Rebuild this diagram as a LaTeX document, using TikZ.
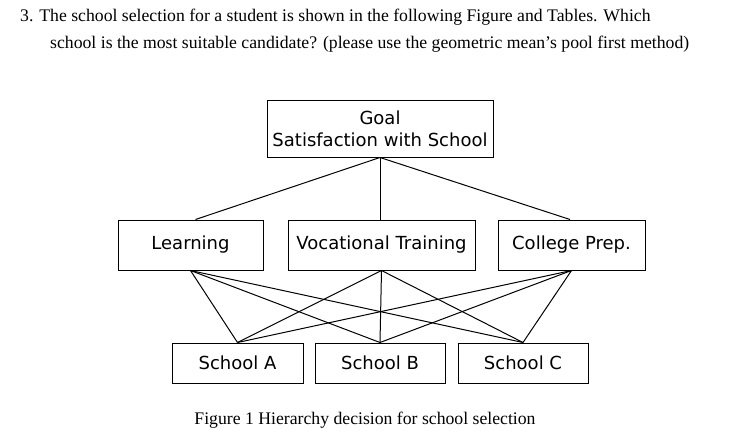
\documentclass[tikz,border=0pt]{standalone}
\usepackage{fontspec}
\setmainfont{Liberation Serif}
\newfontfamily\boxfont{DejaVu Sans}
\begin{document}
\begin{tikzpicture}[x=1pt,y=-1pt,
  bx/.style={draw,line width=1pt,font=\boxfont\fontsize{18}{22}\selectfont,inner sep=0pt,align=center},
  ln/.style={line width=1pt}]
\useasboundingbox (0,0) rectangle (747,436);
\node[anchor=west,inner sep=0pt,font=\fontsize{17.7}{21}\selectfont] (t1) at (20,17) {3. The school selection for a student is shown in the following Figure and Tables. Which};
\node[anchor=west,inner sep=0pt,font=\fontsize{17.7}{21}\selectfont] (t2) at (50,44) {school is the most suitable candidate? (please use the geometric mean’s pool first method)};
\node[bx,minimum width=226,minimum height=57] (g) at (380,128.5) {Goal\\Satisfaction with School};
\node[bx,minimum width=145,minimum height=50] (l) at (190.5,245) {Learning};
\node[bx,minimum width=187,minimum height=50] (v) at (381.5,245) {Vocational Training};
\node[bx,minimum width=147,minimum height=50] (c) at (571.5,245) {College Prep.};
\node[bx,minimum width=131,minimum height=40] (a) at (237.5,363) {School A};
\node[bx,minimum width=130,minimum height=40] (b) at (380,363) {School B};
\node[bx,minimum width=130,minimum height=40] (s) at (523,363) {School C};
\node[font=\fontsize{17.7}{21}\selectfont] (cap) at (365,420) {Figure 1 Hierarchy decision for school selection};
\foreach \n/\xo in {l/5,v/-1.5,c/-1.5}
  \draw[ln] (g.south) -- ([xshift=\xo]\n.north);
\foreach \n in {l,v,c}
  \foreach \m in {a,b,s}
    \draw[ln] (\n.south) -- (\m.north);
\end{tikzpicture}
\end{document}
